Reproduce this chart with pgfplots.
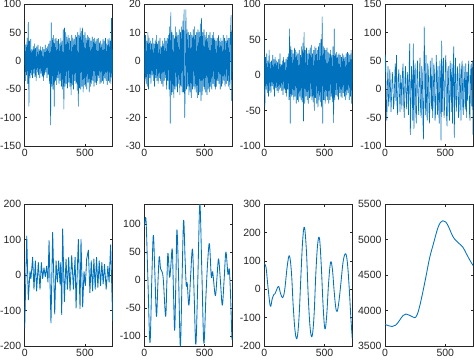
\documentclass[border=0pt]{standalone}
\usepackage{pgfplots}
\pgfplotsset{compat=1.18}
\usepackage{fontspec}
\setmainfont{Liberation Sans}
\definecolor{mblue}{RGB}{0,114,189}
\definecolor{maxis}{RGB}{38,38,38}
\pgfplotsset{
  mstyle/.style={
    scale only axis, width=88pt, height=142pt, anchor=south west,
    xmin=0, xmax=730, xtick={0,500},
    tick align=inside, major tick length=2.5pt,
    axis line style={color=maxis, line width=0.5pt},
    tick style={color=maxis, line width=0.5pt},
    tick label style={font=\fontsize{10.5}{12}\selectfont, color=maxis},
    /pgf/number format/assume math mode=true,
    /pgf/number format/1000 sep={},
    scaled y ticks=false,
  },
  sig/.style={color=mblue, line width=0.6pt, no markers, line join=round},
  sigb/.style={color=mblue, line width=0.85pt, no markers, line join=round},
}
\begin{document}
\begin{tikzpicture}
\path[use as bounding box] (0,0) rectangle (474pt,360pt);

% ---------- top row ----------
\begin{axis}[mstyle, at={(24.7pt,214pt)}, ymin=-150, ymax=100, ytick={-150,-100,-50,0,50,100}]
\addplot[sig] table[row sep=\\, header=false, x expr=\coordindex*5, y index=0] {
30\\-35\\28\\-25\\40\\-40\\68\\-80\\35\\-30\\
38\\-25\\20\\-30\\25\\-22\\30\\-28\\22\\-35\\
25\\-20\\28\\-25\\20\\-30\\25\\-22\\18\\-28\\
24\\-35\\20\\-25\\28\\-20\\22\\-30\\25\\-24\\
30\\-40\\35\\-113\\67\\-45\\40\\-50\\45\\-80\\
38\\-35\\40\\-42\\35\\-30\\38\\-40\\30\\-35\\
40\\-45\\35\\-50\\55\\-85\\58\\-45\\50\\-40\\
42\\-48\\45\\-38\\40\\-45\\35\\-60\\45\\-42\\
40\\-50\\38\\-35\\45\\-40\\42\\-52\\50\\-80\\
45\\-48\\58\\-50\\52\\-45\\58\\-55\\45\\-42\\
50\\-45\\40\\-50\\45\\-38\\42\\-55\\40\\-45\\
35\\-40\\42\\-35\\38\\-45\\40\\-38\\35\\-42\\
38\\-35\\40\\-30\\32\\-40\\35\\-38\\30\\-35\\
38\\-40\\35\\-30\\40\\-35\\30\\-42\\38\\-35\\
40\\-38\\35\\-40\\75\\-30\\20\\
};
\end{axis}

\begin{axis}[mstyle, at={(144.3pt,214pt)}, ymin=-30, ymax=20, ytick={-30,-20,-10,0,10,20}]
\addplot[sig] table[row sep=\\, header=false, x expr=\coordindex*5, y index=0] {
8\\-7\\9\\-8\\7\\-9\\10\\-10\\8\\-6\\
7\\-8\\6\\-5\\8\\-7\\6\\-9\\7\\-6\\
9\\-7\\6\\-8\\7\\-6\\8\\-7\\5\\-8\\
7\\-9\\6\\-7\\8\\-6\\7\\-10\\8\\-7\\
9\\-10\\12\\-22\\17\\-12\\10\\-11\\9\\-13\\
8\\-10\\12\\-9\\10\\-11\\9\\-8\\11\\-12\\
10\\-9\\12\\-11\\14\\-11\\18\\-20\\-9\\18\\
-10\\11\\-9\\10\\-12\\9\\-11\\10\\-13\\9\\
-10\\11\\-9\\12\\-10\\9\\-11\\10\\-13\\11\\
-12\\10\\-11\\13\\-14\\15\\-12\\10\\-9\\11\\
-10\\9\\-11\\10\\-12\\8\\-10\\9\\-11\\10\\
-9\\8\\-10\\9\\-8\\10\\-9\\8\\-10\\7\\
-9\\8\\-7\\9\\-8\\7\\-10\\8\\-9\\7\\
-8\\9\\-7\\8\\-9\\7\\-8\\9\\-7\\8\\
-9\\8\\-10\\9\\16\\-14\\10\\
};
\end{axis}

\begin{axis}[mstyle, at={(264.3pt,214pt)}, ymin=-100, ymax=100, ytick={-100,-50,0,50,100}]
\addplot[sig] table[row sep=\\, header=false, x expr=\coordindex*5, y index=0] {
50\\-45\\25\\-20\\30\\-25\\20\\-30\\35\\-22\\
18\\-25\\20\\-15\\28\\-20\\22\\-30\\25\\-18\\
20\\-22\\18\\-25\\22\\-20\\30\\-18\\15\\-22\\
20\\-28\\25\\-20\\18\\-25\\22\\-30\\25\\-20\\
30\\-35\\65\\-68\\40\\-30\\35\\-28\\30\\-35\\
38\\-30\\35\\-40\\32\\-35\\30\\-38\\35\\-30\\
28\\-35\\40\\-38\\45\\-65\\60\\-40\\35\\-30\\
38\\-35\\30\\-40\\35\\-32\\38\\-30\\42\\-35\\
30\\-38\\35\\-50\\40\\-32\\38\\-40\\35\\-45\\
40\\-35\\45\\-38\\50\\-45\\82\\-68\\40\\-35\\
38\\-40\\35\\-30\\38\\-35\\32\\-40\\30\\-35\\
35\\-30\\28\\-38\\40\\-67\\65\\-35\\30\\-28\\
32\\-30\\28\\-35\\30\\-25\\28\\-30\\25\\-32\\
30\\-25\\28\\-30\\25\\-35\\30\\-28\\32\\-25\\
30\\-35\\28\\-30\\35\\-40\\30\\
};
\end{axis}

\begin{axis}[mstyle, at={(385pt,214pt)}, ymin=-100, ymax=150, ytick={-100,-50,0,50,100,150}]
\addplot[sig] table[row sep=\\, header=false, x expr=\coordindex*5, y index=0] {
30\\60\\-20\\-55\\10\\40\\-30\\-15\\35\\5\\
-40\\-10\\30\\20\\-35\\-25\\15\\45\\-20\\60\\
-30\\-45\\20\\35\\-10\\-40\\25\\10\\-35\\30\\
45\\-25\\-50\\15\\40\\-20\\-35\\30\\10\\-45\\
35\\80\\-80\\-30\\40\\20\\-55\\80\\-70\\25\\
45\\-40\\-60\\30\\50\\-25\\-45\\20\\55\\-35\\
-50\\40\\25\\-60\\-88\\110\\35\\-45\\60\\-30\\
-55\\45\\30\\-40\\-60\\50\\20\\-35\\55\\-50\\
-20\\45\\30\\-55\\-40\\60\\25\\-45\\40\\-30\\
-60\\50\\20\\-90\\85\\-40\\35\\55\\-50\\-30\\
45\\60\\-45\\-65\\30\\40\\-35\\-55\\50\\25\\
-40\\45\\-60\\30\\75\\-85\\20\\55\\-40\\-25\\
40\\30\\-50\\-35\\45\\20\\-55\\35\\50\\-30\\
-45\\40\\15\\-35\\45\\-50\\30\\-20\\35\\50\\
-40\\-55\\30\\45\\-30\\50\\-80\\
};
\end{axis}

% ---------- bottom row ----------
\begin{axis}[mstyle, at={(24.7pt,14pt)}, ymin=-200, ymax=200, ytick={-200,-100,0,100,200}]
\addplot[sigb] coordinates {
(0,-150)(17,110)(30,-70)(44,10)(52,-10)(66,50)(77,-40)(88,40)(99,-45)(113,35)
(127,-40)(138,35)(149,-10)(160,20)(171,-5)(182,25)(193,-20)(202,97)(218,-135)
(232,120)(249,-110)(260,40)(271,-20)(282,40)(293,-25)(299,35)(307,-112)(315,130)
(329,-75)(343,45)(354,-40)(365,50)(376,-45)(390,55)(404,-40)(418,50)(426,-93)
(445,100)(459,-95)(467,100)(481,-90)(492,10)(503,-30)(514,45)(528,70)(541,-50)
(552,40)(563,-45)(574,45)(585,-40)(596,50)(607,-35)(618,40)(629,-30)(640,35)
(651,-25)(662,30)(676,-40)(690,25)(700,-20)(713,85)(730,-130)
};
\end{axis}

\begin{axis}[mstyle, at={(144.3pt,14pt)}, ymin=-118, ymax=136, ytick={-100,-50,0,50,100}]
\addplot[sigb, smooth, tension=0.55] coordinates {
(0,95)(14,108)(30,0)(47,-112)(62,0)(75,80)(88,10)(101,-65)(113,-5)(124,42)
(135,20)(147,15)(158,0)(177,-65)(187,-5)(196,48)(210,5)(220,25)(232,55)
(242,-20)(252,-90)(262,0)(271,90)(285,0)(299,-118)(313,0)(326,107)(338,40)
(348,-10)(356,-5)(370,-45)(385,10)(400,55)(414,-30)(428,-115)(445,10)(461,136)
(478,10)(494,-113)(511,-30)(525,30)(540,65)(556,5)(567,15)(589,-28)(603,5)
(616,38)(631,0)(647,-45)(662,0)(677,50)(694,10)(705,20)(716,-30)(726,-100)(730,-105)
};
\end{axis}

\begin{axis}[mstyle, at={(264.3pt,14pt)}, ymin=-200, ymax=300, ytick={-200,-100,0,100,200,300}]
\addplot[sigb, smooth, tension=0.6] coordinates {
(0,90)(15,75)(30,10)(50,-60)(65,-35)(78,-20)(90,-15)(104,0)(119,10)(135,-15)
(153,-30)(170,0)(190,80)(208,118)(225,60)(240,-60)(256,-150)(272,-172)(288,-100)
(303,40)(318,170)(333,218)(350,130)(365,-30)(381,-140)(397,-165)(413,-90)
(428,60)(443,160)(458,178)(473,80)(488,-60)(503,-140)(518,-90)(533,20)(550,95)
(565,70)(580,-10)(593,-65)(605,-78)(620,-40)(635,20)(655,100)(675,125)(690,90)
(705,0)(718,-100)(730,-175)
};
\end{axis}

\begin{axis}[mstyle, at={(385pt,14pt)}, ymin=3500, ymax=5500, ytick={3500,4000,4500,5000,5500}]
\addplot[sigb, smooth, tension=0.6] coordinates {
(0,3805)(30,3785)(60,3775)(90,3795)(120,3860)(150,3930)(175,3950)(200,3935)
(230,3910)(255,3905)(280,4010)(310,4230)(340,4480)(370,4740)(400,4930)(436,5150)
(460,5240)(480,5265)(505,5245)(530,5170)(555,5070)(580,5000)(610,4950)(645,4895)
(675,4800)(700,4720)(730,4635)
};
\end{axis}
\end{tikzpicture}
\end{document}
